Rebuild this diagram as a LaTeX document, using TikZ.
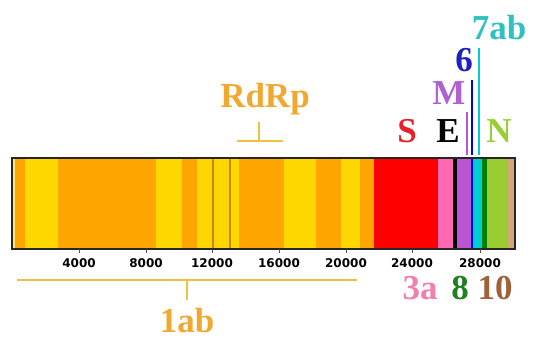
\documentclass[tikz,border=0pt]{standalone}
\usepackage{fontspec}
\setmainfont{Liberation Serif}
\newfontfamily\tickfont{DejaVu Sans}
\usepackage{tikz}
\definecolor{cdsyellow}{HTML}{FFD700}
\definecolor{cdsorange}{HTML}{FFA500}
\definecolor{utrpale}{HTML}{FFE680}
\definecolor{spikered}{HTML}{FF0000}
\definecolor{orfpink}{HTML}{FF69B4}
\definecolor{mpurple}{HTML}{BA55D3}
\definecolor{sixblue}{HTML}{0000FF}
\definecolor{sevencyan}{HTML}{00CED1}
\definecolor{eightgreen}{HTML}{008000}
\definecolor{ngreen}{HTML}{9ACD32}
\definecolor{tentan}{HTML}{D2A679}
\definecolor{ablabel}{HTML}{F0A830}
\definecolor{abbracket}{HTML}{F0C040}
\definecolor{slabel}{HTML}{E8202A}
\definecolor{mlabel}{HTML}{B060D0}
\definecolor{sixlabel}{HTML}{2020C0}
\definecolor{sevenlabel}{HTML}{30C0C0}
\definecolor{pinklabel}{HTML}{F080B0}
\definecolor{eightlabel}{HTML}{208020}
\definecolor{tenlabel}{HTML}{A0603A}
\tikzset{
  genelabel/.style={font=\fontsize{35}{40}\selectfont\bfseries,anchor=base,inner sep=0pt},
  ticklabel/.style={font=\tickfont\bfseries\fontsize{12}{14}\selectfont,anchor=base,inner sep=0pt},
  bracketline/.style={draw=abbracket,line width=2pt},
  markerline/.style={line width=1.5pt},
  tickmark/.style={draw=black!70,line width=0.8pt}
}

\begin{document}
\begin{tikzpicture}[x=1pt,y=-1pt]
  \useasboundingbox (0,0) rectangle (550,350);
  % genome segments
  \fill[utrpale] (12,158) rectangle (15,249);
  \fill[cdsorange] (15,158) rectangle (25,249);
  \fill[cdsyellow] (25,158) rectangle (58,249);
  \fill[cdsorange] (58,158) rectangle (156,249);
  \fill[cdsyellow] (156,158) rectangle (182,249);
  \fill[cdsorange] (182,158) rectangle (197,249);
  \fill[cdsyellow] (197,158) rectangle (212,249);
  \fill[cdsorange!80!black] (212,158) rectangle (214,249);
  \fill[cdsyellow] (214,158) rectangle (229,249);
  \fill[cdsorange!80!black] (229,158) rectangle (231,249);
  \fill[cdsyellow] (231,158) rectangle (239,249);
  \fill[cdsorange] (239,158) rectangle (284,249);
  \fill[cdsyellow] (284,158) rectangle (316,249);
  \fill[cdsorange] (316,158) rectangle (341,249);
  \fill[cdsyellow] (341,158) rectangle (360,249);
  \fill[cdsorange] (360,158) rectangle (374,249);
  \fill[spikered] (374,158) rectangle (438,249);
  \fill[orfpink] (438,158) rectangle (453,249);
  \fill[black] (453,158) rectangle (457,249);
  \fill[mpurple] (457,158) rectangle (471,249);
  \fill[sixblue] (471,158) rectangle (473,249);
  \fill[sevencyan] (473,158) rectangle (482,249);
  \fill[eightgreen] (482,158) rectangle (487,249);
  \fill[ngreen] (487,158) rectangle (508,249);
  \fill[tentan] (508,158) rectangle (514,249);
  \draw[line width=1.2pt,black!85] (12,158) rectangle (515,249);
  % axis
  \draw[tickmark] (79,249) -- (79,253);
  \draw[tickmark] (146,249) -- (146,253);
  \draw[tickmark] (212,249) -- (212,253);
  \draw[tickmark] (279,249) -- (279,253);
  \draw[tickmark] (346,249) -- (346,253);
  \draw[tickmark] (412,249) -- (412,253);
  \draw[tickmark] (480,249) -- (480,253);
  \node[ticklabel] (t4) at (79,268) {4000};
  \node[ticklabel] (t8) at (146,268) {8000};
  \node[ticklabel] (t12) at (212,268) {12000};
  \node[ticklabel] (t16) at (279,268) {16000};
  \node[ticklabel] (t20) at (346,268) {20000};
  \node[ticklabel] (t24) at (412,268) {24000};
  \node[ticklabel] (t28) at (480,268) {28000};
  % brackets
  \draw[bracketline] (17,280) -- (357,280);
  \draw[bracketline] (187,280) -- (187,300);
  \draw[bracketline,line width=1.5pt] (237,141) -- (283,141);
  \draw[bracketline,line width=1.5pt] (259,122) -- (259,141);
  % marker lines
  \draw[markerline,mpurple] (467,112) -- (467,155);
  \draw[markerline,sixblue] (472,80) -- (472,155);
  \draw[markerline,sevencyan] (479,48) -- (479,155);
  % labels
  \node[genelabel,text=ablabel] (rdrp) at (265,108) {RdRp};
  \node[genelabel,text=ablabel] (orf1ab) at (187,333) {1ab};
  \node[genelabel,text=slabel] (spike) at (407,143) {S};
  \node[genelabel,text=black] (envelope) at (448,143) {E};
  \node[genelabel,text=ngreen] (nucleo) at (499,143) {N};
  \node[genelabel,text=mlabel] (membrane) at (449,105) {M};
  \node[genelabel,text=sixlabel] (orf6) at (464,72) {6};
  \node[genelabel,text=sevenlabel] (orf7ab) at (499,40) {7ab};
  \node[genelabel,text=pinklabel] (orf3a) at (420,300) {3a};
  \node[genelabel,text=eightlabel] (orf8) at (460,300) {8};
  \node[genelabel,text=tenlabel] (orf10) at (495,300) {10};
\end{tikzpicture}
\end{document}
